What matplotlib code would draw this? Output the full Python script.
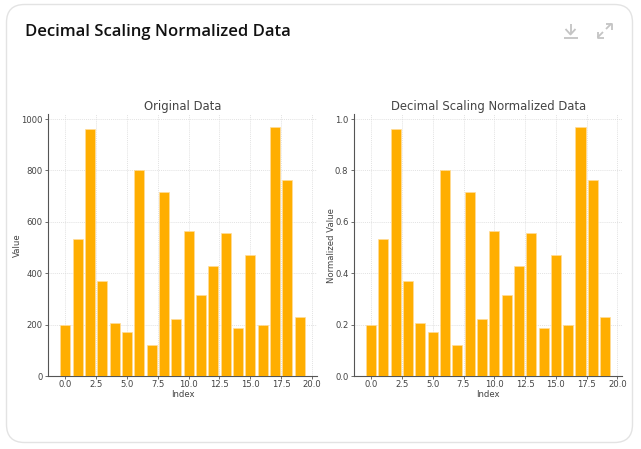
import matplotlib
matplotlib.use("Agg")
import matplotlib.pyplot as plt
from matplotlib.patches import FancyBboxPatch

W, H = 641, 449
card_title = "Decimal Scaling Normalized Data"
left_title = "Original Data"
right_title = "Decimal Scaling Normalized Data"
x_label = "Index"
left_ylabel = "Value"
right_ylabel = "Normalized Value"
indices = list(range(20))
original_values = [200, 535, 960, 370, 205, 170, 800, 120, 715, 220,
                   565, 315, 430, 558, 187, 472, 198, 970, 763, 230]
normalized_values = [0.200, 0.535, 0.960, 0.370, 0.205, 0.170, 0.800, 0.120, 0.715, 0.220,
                     0.565, 0.315, 0.430, 0.558, 0.187, 0.472, 0.198, 0.970, 0.763, 0.230]
BAR = "#FFAE00"
EDGE = "#FFDD99"
TXT = "#444444"
SPINE = "#555555"

fig = plt.figure(figsize=(W / 100, H / 100), dpi=100, facecolor="white")

# Page layer in pixel coordinates
bg = fig.add_axes([0, 0, 1, 1], zorder=0)
bg.set_xlim(0, W)
bg.set_ylim(H, 0)
bg.axis("off")
bg.add_patch(FancyBboxPatch((6.5 + 18, 4.5 + 18), 626 - 36, 438 - 36,
                            boxstyle="round,pad=18,rounding_size=18",
                            fc="white", ec="#E3E3E3", lw=1.0))
bg.text(25, 32, card_title, fontsize=12.0, fontfamily="Open Sans", fontweight="semibold",
        color="#111111", va="center", ha="left")
# download icon
ICON = "#C4C4C4"
LW = 1.3
bg.plot([570.5, 570.5], [24, 34], color=ICON, lw=LW, solid_capstyle="butt")
bg.plot([565.5, 570.5, 575.5], [29, 34.5, 29], color=ICON, lw=LW, solid_capstyle="butt")
bg.plot([564, 578], [37.5, 37.5], color=ICON, lw=LW, solid_capstyle="butt")
# expand icon
bg.plot([606, 611.5], [29, 23.5], color=ICON, lw=LW, solid_capstyle="butt")
bg.plot([605.5, 611.5, 611.5], [23.5, 23.5, 29.5], color=ICON, lw=LW, solid_capstyle="butt")
bg.plot([597.5, 603], [37.5, 32], color=ICON, lw=LW, solid_capstyle="butt")
bg.plot([597.5, 597.5, 603.5], [31.5, 37.5, 37.5], color=ICON, lw=LW, solid_capstyle="butt")


def make_axes(x0, x1, title, ylabel, values, ytop):
    y0, y1 = 114.3, 376.0
    ax = fig.add_axes([x0 / W, 1 - y1 / H, (x1 - x0) / W, (y1 - y0) / H], zorder=1)
    ax.patch.set_alpha(0)
    ax.bar(indices, values, width=0.82, color=BAR, edgecolor=EDGE, linewidth=0.5, zorder=3)
    ax.set_xlim(-1.39, 20.39)
    ax.set_ylim(0, ytop)
    ax.set_title(title, fontsize=8.35, color=TXT, pad=3)
    ax.set_ylabel(ylabel, fontsize=6.1, color=TXT, labelpad=-0.5)
    ax.tick_params(axis="both", labelsize=6.1, labelcolor=TXT, color=SPINE,
                   length=2.2, width=0.6, pad=1.8)
    ax.tick_params(axis="x", pad=0.6)
    ax.set_xlabel(x_label, fontsize=6.1, color=TXT, labelpad=0.8)
    ax.grid(True, color="#D8D8D8", linestyle=(0, (1.5, 1.5)), linewidth=0.5, zorder=0)
    ax.set_axisbelow(True)
    for side in ("top", "right"):
        ax.spines[side].set_visible(False)
    for side in ("left", "bottom"):
        ax.spines[side].set_color(SPINE)
        ax.spines[side].set_linewidth(0.8)
    ax.set_xticks([0, 2.5, 5, 7.5, 10, 12.5, 15, 17.5, 20])
    return ax


make_axes(48.3, 316.7, left_title, left_ylabel, original_values, 1018.5)
make_axes(354.0, 622.3, right_title, right_ylabel, normalized_values, 1.0185)

fig.savefig("out.png", dpi=100, facecolor="white")
